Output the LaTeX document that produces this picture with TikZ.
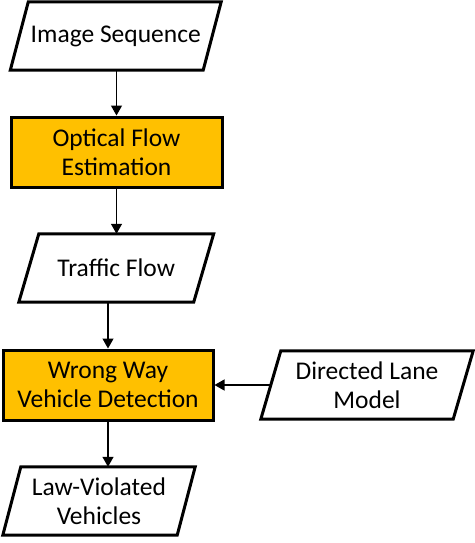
\documentclass[tikz,border=0pt]{standalone}
\usepackage{fontspec}
\setmainfont{Carlito}
\usetikzlibrary{arrows.meta,calc}
\definecolor{boxorange}{HTML}{FFC000}
\tikzset{
  txt/.style={inner sep=0pt, align=center, font=\fontsize{25.5}{29}\selectfont, minimum height=68pt},
  procbox/.style={draw=black, line width=3pt, fill=boxorange, inner sep=0pt, align=center,
    font=\fontsize{25.5}{29}\selectfont, minimum height=70pt},
  ioline/.style={draw=black, line width=3pt, line join=miter},
  flow/.style={line width=1.3pt, -{Triangle[length=10pt,width=11pt]}}
}
\newcommand{\iodraw}[2]{%
  \draw[ioline] ([xshift=-#2]#1.south west) -- ([xshift=#2]#1.north west) --
    ([xshift=#2]#1.north east) -- ([xshift=-#2]#1.south east) -- cycle;}
\begin{document}
\begin{tikzpicture}[x=1pt,y=-1pt]
\useasboundingbox (0,0) rectangle (474,543);
% nodes
\node[txt, minimum width=192.5pt] (img) at (115.75,36) {Image Sequence};
\iodraw{img}{9pt}
\node[procbox, minimum width=211pt] (opt) at (116.5,152) {Optical Flow\\Estimation};
\node[txt, minimum width=174.5pt] (traf) at (116.25,268) {Traffic Flow};
\iodraw{traf}{10pt}
\node[procbox, minimum width=210pt] (wrong) at (108,385) {Wrong Way\\Vehicle Detection};
\node[txt, minimum width=192pt] (lane) at (367,385) {Directed Lane\\Model};
\iodraw{lane}{10pt}
\node[txt, minimum width=174pt] (law) at (99,501) {Law-Violated\\Vehicles};
\iodraw{law}{9pt}
% connectors
\draw[flow] (opt.north |- img.south) -- (opt.north);
\draw[flow] (opt.south) -- (traf.north -| opt.south);
\draw[flow] (wrong.north |- traf.south) -- (wrong.north);
\draw[flow] (lane.west) -- (wrong.east);
\draw[flow] (wrong.south) -- (wrong.south |- law.north);
\end{tikzpicture}
\end{document}
